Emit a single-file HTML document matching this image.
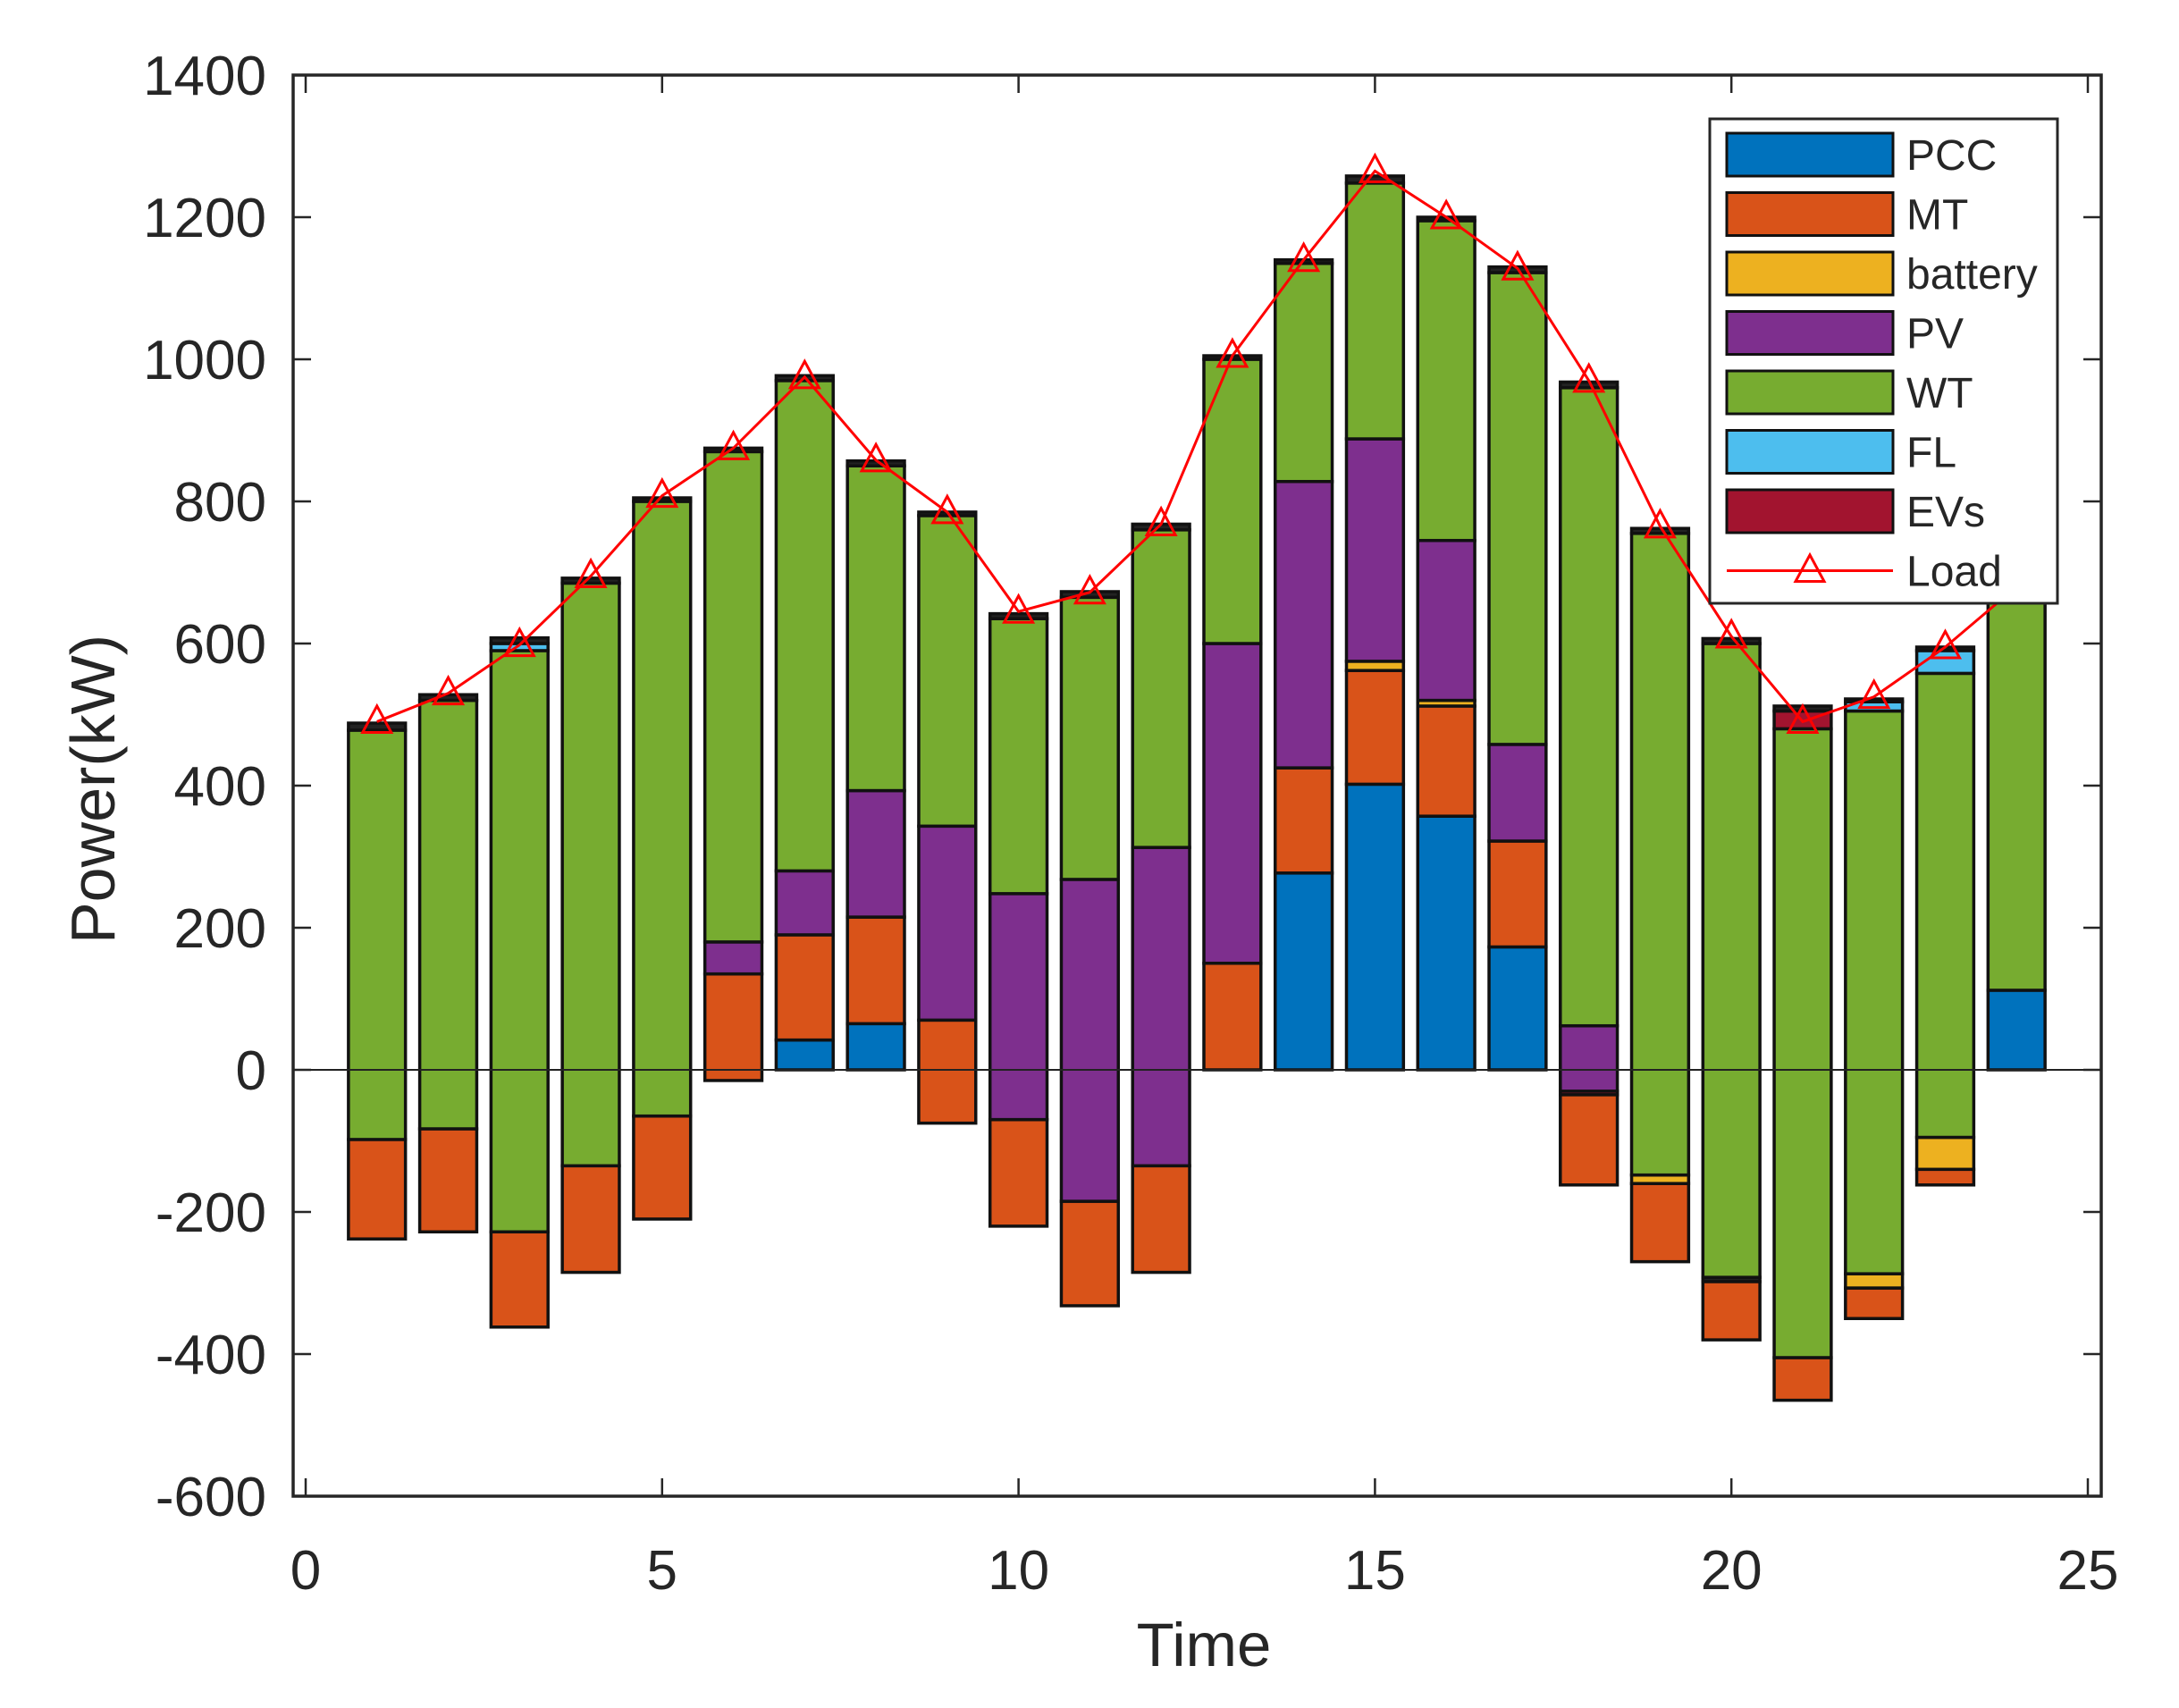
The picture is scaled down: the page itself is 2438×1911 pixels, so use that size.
<!DOCTYPE html>
<html><head><meta charset="utf-8"><style>
html,body{margin:0;padding:0;background:#fff;}
svg{display:block;}
text{font-family:"Liberation Sans",Arial,sans-serif;fill:#262626;}
</style></head><body>
<svg id="s" width="2438" height="1911" viewBox="0 0 2438 1911" xmlns="http://www.w3.org/2000/svg">
<rect width="2438" height="1911" fill="#fff"/>
<g id="bars"></g>
<g id="axes"></g>
<g id="load"></g>
<g id="leg"></g>
</svg>
<script>
var NS="http://www.w3.org/2000/svg";
function X(v){return 342+v*79.76;}
function Y(v){return 1197-v*0.795;}
function el(p,tag,a,txt){var e=document.createElementNS(NS,tag);for(var k in a)e.setAttribute(k,a[k]);if(txt!==undefined)e.textContent=txt;p.appendChild(e);return e;}
var C={P:"#0072BD",M:"#D95319",B:"#EDB120",V:"#7E2F8E",W:"#77AC30",F:"#4DBEEE",E:"#A2142F",K:"#222"};
var bars=[
[-238,["M",-98],["W",478],["K",488]],
[-228,["M",-83],["W",520],["K",528]],
[-362,["M",-228],["W",590],["F",600],["K",608]],
[-285,["M",-135],["W",685],["K",692]],
[-210,["M",-65],["W",800],["K",805]],
[-15,["M",135],["V",180],["W",870],["K",875]],
[0,["P",42],["M",190],["V",280],["W",970],["K",977]],
[0,["P",65],["M",215],["V",393],["W",850],["K",857]],
[-75,["M",70],["V",343],["W",780],["K",785]],
[-220,["M",-70],["V",248],["W",635],["K",642]],
[-332,["M",-185],["V",268],["W",665],["K",673]],
[-285,["M",-135],["V",313],["W",760],["K",768]],
[0,["M",150],["V",600],["W",1000],["K",1005]],
[0,["P",277],["M",425],["V",828],["W",1135],["K",1140]],
[0,["P",402],["M",562],["B",575],["V",888],["W",1248],["K",1258]],
[0,["P",357],["M",512],["B",520],["V",745],["W",1195],["K",1200]],
[0,["P",173],["M",322],["V",458],["W",1122],["K",1130]],
[-162,["M",-35],["E",-30],["V",62],["W",960],["K",968]],
[-270,["M",-160],["B",-148],["W",755],["K",762]],
[-380,["M",-298],["K",-292],["W",600],["K",607]],
[-465,["M",-405],["W",480],["E",505],["K",512]],
[-350,["M",-307],["B",-287],["W",505],["F",518],["K",522]],
[-162,["M",-140],["B",-95],["W",558],["F",590],["K",595]],
[0,["P",112],["W",720]]
];
var load=[490,530,598,695,808,875,975,858,785,645,672,768,1005,1140,1265,1200,1128,970,765,610,490,525,595,680];
var gb=document.getElementById("bars");
bars.forEach(function(b,i){
  var x0=X(i+1-0.4),w=0.8*79.76,prev=b[0];
  for(var j=1;j<b.length;j++){
    var c=b[j][0],t=b[j][1];
    el(gb,"rect",{x:x0,y:Y(Math.max(prev,t)),width:w,height:Math.abs(Y(prev)-Y(t)),fill:C[c],stroke:"#111","stroke-width":3.5});
    prev=t;
  }
});
var ga=document.getElementById("axes");
el(ga,"line",{x1:328,x2:2351,y1:Y(0),y2:Y(0),stroke:"#222","stroke-width":2});
el(ga,"rect",{x:328,y:84,width:2023,height:1590,fill:"none",stroke:"#262626","stroke-width":3.5});
for(var v=-600;v<=1400;v+=200){
  var y=Y(v);
  el(ga,"line",{x1:328,x2:348,y1:y,y2:y,stroke:"#262626","stroke-width":2.5});
  el(ga,"line",{x1:2331,x2:2351,y1:y,y2:y,stroke:"#262626","stroke-width":2.5});
  el(ga,"text",{x:298,y:y+22,"text-anchor":"end","font-size":62},String(v));
}
for(var t=0;t<=25;t+=5){
  var x=X(t);
  el(ga,"line",{x1:x,x2:x,y1:1674,y2:1654,stroke:"#262626","stroke-width":2.5});
  el(ga,"line",{x1:x,x2:x,y1:84,y2:104,stroke:"#262626","stroke-width":2.5});
  el(ga,"text",{x:x,y:1778,"text-anchor":"middle","font-size":62},String(t));
}
el(ga,"text",{x:1347,y:1864,"text-anchor":"middle","font-size":69},"Time");
el(ga,"text",{x:0,y:0,"text-anchor":"middle","font-size":70,transform:"translate(128,883) rotate(-90)"},"Power(kW)");
var gl=document.getElementById("load");
var pts=load.map(function(v,i){return X(i+1)+","+Y(v);}).join(" ");
el(gl,"polyline",{points:pts,fill:"none",stroke:"#ff0000","stroke-width":3});
function tri(g,cx,cy){var h=16;el(g,"polygon",{points:(cx-h)+","+(cy+h*0.75)+" "+(cx+h)+","+(cy+h*0.75)+" "+cx+","+(cy-h*1.1),fill:"none",stroke:"#ff0000","stroke-width":3});}
load.forEach(function(v,i){tri(gl,X(i+1),Y(v));});
var gg=document.getElementById("leg");
var LX=-11;
el(gg,"rect",{x:1924+LX,y:133,width:389,height:542,fill:"#fff",stroke:"#262626","stroke-width":3});
var names=[["PCC","P"],["MT","M"],["battery","B"],["PV","V"],["WT","W"],["FL","F"],["EVs","E"]];
names.forEach(function(n,i){
  var cy=173+66.5*i;
  el(gg,"rect",{x:1943+LX,y:cy-24,width:186,height:48,fill:C[n[1]],stroke:"#111","stroke-width":3});
  el(gg,"text",{x:2144+LX,y:cy+17,"font-size":48},n[0]);
});
var cy=173+66.5*7;
el(gg,"line",{x1:1943+LX,x2:2129+LX,y1:cy,y2:cy,stroke:"#ff0000","stroke-width":3});
tri(gg,2036+LX,cy);
el(gg,"text",{x:2144+LX,y:cy+17,"font-size":48},"Load");
</script>
</body></html>
